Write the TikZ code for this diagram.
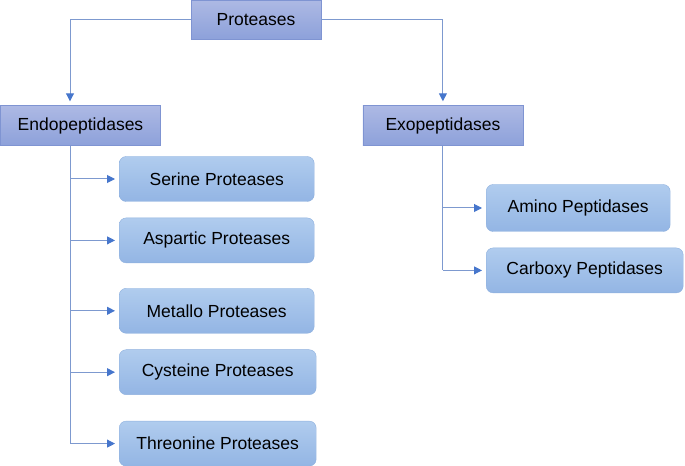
\documentclass[tikz,border=0pt]{standalone}
\usepackage{fontspec}
\setmainfont{Liberation Sans}
\usepackage{xcolor}
\usetikzlibrary{arrows.meta,positioning}
\definecolor{topline}{HTML}{7F94D2}
\definecolor{toptop}{HTML}{ADB9E4}
\definecolor{topbot}{HTML}{8DA1DA}
\definecolor{leafline}{HTML}{8EB0DE}
\definecolor{leaftop}{HTML}{B0CCEE}
\definecolor{leafbot}{HTML}{93B5E4}
\definecolor{linkblue}{HTML}{7D99CF}
\definecolor{tipblue}{HTML}{4676CC}

\begin{document}
\begin{tikzpicture}[x=1bp, y=-1bp, font=\fontsize{17.5bp}{21bp}\selectfont, top/.style={draw=topline, top color=toptop, bottom color=topbot, minimum width=160bp, minimum height=40bp, inner sep=0pt}, leaf/.style={draw=leafline, rounded corners=7bp, top color=leaftop, bottom color=leafbot, minimum width=195bp, minimum height=45bp, inner sep=0pt, anchor=west}, link/.style={draw=linkblue, line width=1bp}, arr/.style={link, -{Triangle[length=8bp, width=8bp, color=tipblue]}, shorten >=4bp}]
\useasboundingbox (0,0) rectangle (685,466);
\node[top, minimum width=130bp, minimum height=39bp] (prot) at (256,19.5) {Proteases};
\node[top] (endo) at (80.5,125.5) {Endopeptidases};
\node[top, right=202bp of endo] (exo) {Exopeptidases};
\coordinate (lx) at (70,0);
% endopeptidases
\node[leaf] (serine) at (119,179) {Serine Proteases};
\node[leaf, below=16bp of serine.south west, anchor=north west] (aspartic) {Aspartic Proteases};
\node[leaf, below=25bp of aspartic.south west, anchor=north west] (metallo) {Metallo Proteases};
\node[leaf, below=16bp of metallo.south west, anchor=north west, minimum width=197bp] (cysteine) {Cysteine Proteases};
\node[leaf, below=26bp of cysteine.south west, anchor=north west, minimum width=197bp] (threonine) {Threonine Proteases};
% exopeptidases
\node[leaf, minimum width=184bp, minimum height=47bp] (amino) at (486,208) {Amino Peptidases};
\node[leaf, below=16bp of amino.south west, anchor=north west, minimum width=197bp] (carboxy) {Carboxy Peptidases};
\draw[arr] (prot.west) -| (endo.north -| lx);
\draw[arr] (prot.east) -| (exo.north);
\draw[link] (endo.south -| lx) -- (lx |- threonine.west);
\foreach \n in {serine,aspartic,metallo,cysteine,threonine}
  \draw[arr] (lx |- \n.west) -- (\n.west);
\draw[link] (exo.south) -- (exo.south |- carboxy.west);
\foreach \n in {amino,carboxy}
  \draw[arr] (exo.south |- \n.west) -- (\n.west);
\end{tikzpicture}
\end{document}
